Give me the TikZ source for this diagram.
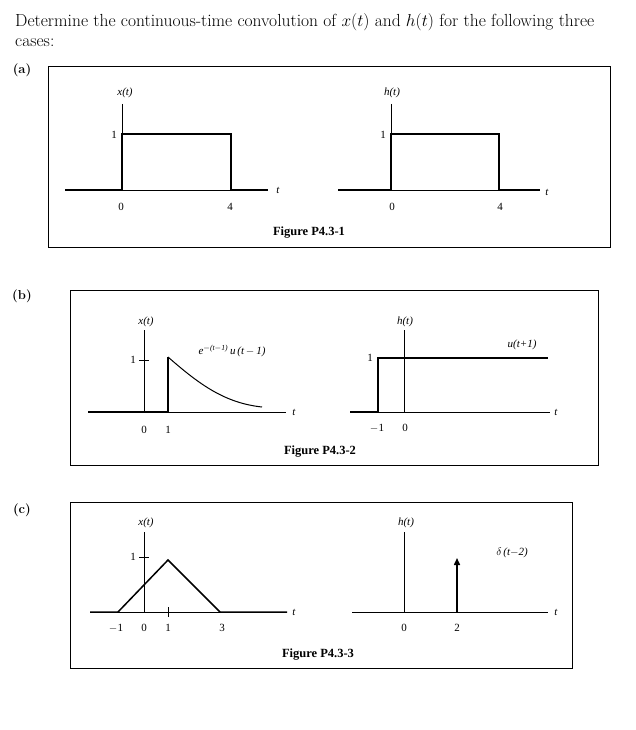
\documentclass[tikz,border=0pt]{standalone}
\usepackage{fontspec}
\newfontfamily\tms{Liberation Serif}
\usetikzlibrary{arrows.meta}
\begin{document}
\begin{tikzpicture}[x=1pt,y=-1pt,
  ax/.style={line width=0.7pt},
  sig/.style={line width=1.5pt},
  lb/.style={font=\tms\fontsize{11}{13}\selectfont\itshape, inner sep=1pt},
  num/.style={font=\tms\fontsize{11}{13}\selectfont, inner sep=1pt},
  fig/.style={font=\tms\bfseries\fontsize{12.5}{14}\selectfont},
  part/.style={font=\bfseries\fontsize{13}{15}\selectfont},
  frame/.style={line width=0.7pt}]
\useasboundingbox (0,0) rectangle (636,730);
\node[anchor=west,font=\fontsize{17.5}{20}\selectfont, inner sep=0] (hd1) at (15,22) {Determine the continuous-time convolution of $x(t)$ and $h(t)$ for the following three};
\node[anchor=west,font=\fontsize{17.5}{20}\selectfont, inner sep=0] (hd2) at (15,43) {cases:};
% (a)
\node[part] (pa) at (22,70) {(a)};
\draw[frame] (48,66) rectangle (610,247);
\draw[ax] (122,104) -- (122,190);
\draw[ax] (65,190) -- (268,190);
\draw[sig] (65,190) -- (122,190) -- (122,134) -- (231,134) -- (231,190) -- (268,190);
\node[lb] (xa) at (125,93) {x(t)};
\node[num] (a1) at (114,135) {1};
\node[lb] (ta) at (278,190) {t};
\node[num] (a0) at (121,207) {0};
\node[num] (a4) at (230,207) {4};
\draw[ax] (391,104) -- (391,190);
\draw[ax] (338,190) -- (540,190);
\draw[sig] (338,190) -- (391,190) -- (391,134) -- (499,134) -- (499,190) -- (540,190);
\node[lb] (ha) at (392,93) {h(t)};
\node[num] (ha1) at (383,135) {1};
\node[lb] (tha) at (547,192) {t};
\node[num] (ha0) at (392,207) {0};
\node[num] (ha4) at (500,207) {4};
\node[fig] (f1) at (309,233) {Figure P4.3-1};
% (b)
\node[part] (pb) at (22,296) {(b)};
\draw[frame] (70,290) rectangle (598,465);
\draw[ax] (144,330) -- (144,412);
\draw[ax] (88,412) -- (286,412);
\draw[ax] (139,360) -- (149,360);
\draw[sig] (88,412) -- (168,412) -- (168,357);
\draw[line width=1pt] (168,357) .. controls (200,385) and (225,403) .. (262,407);
\node[lb] (xb) at (146,322) {x(t)};
\node[num] (b1) at (133,360) {1};
\node[lb] (tb) at (294,412) {t};
\node[lb] (eb) at (232,351) {e\textsuperscript{$-$(t$-$1)}\,u\,(t$\,-\,$1)};
\node[num] (b0) at (144,430) {0};
\node[num] (bb1) at (168,430) {1};
\draw[ax] (404,330) -- (404,412);
\draw[ax] (350,412) -- (550,412);
\draw[sig] (350,412) -- (378,412) -- (378,358) -- (548,358);
\node[lb] (hb) at (405,322) {h(t)};
\node[num] (hb1) at (370,358) {1};
\node[lb] (ub) at (522,345) {u(t+1)};
\node[lb] (thb) at (556,412) {t};
\node[num] (hbm) at (377,428) {$-$1};
\node[num] (hb0) at (405,428) {0};
\node[fig] (f2) at (320,452) {Figure P4.3-2};
% (c)
\node[part] (pc) at (22,510) {(c)};
\draw[frame] (70,502) rectangle (572,668);
\draw[ax] (144,532) -- (144,612);
\draw[ax] (90,612) -- (287,612);
\draw[ax] (139,557) -- (149,557);
\draw[ax] (168,607) -- (168,617);
\draw[sig] (90,612) -- (118,612) -- (168,560) -- (220,612) -- (287,612);
\node[lb] (xc) at (146,523) {x(t)};
\node[num] (c1) at (133,557) {1};
\node[lb] (tc) at (294,612) {t};
\node[num] (cm) at (116,628) {$-$1};
\node[num] (c0) at (144,628) {0};
\node[num] (cc1) at (168,628) {1};
\node[num] (c3) at (222,628) {3};
\draw[ax] (404,532) -- (404,612);
\draw[ax] (352,612) -- (548,612);
\coordinate (ib) at (457,612);
\coordinate (it) at (457,558);
\draw[sig,-{Triangle[length=7pt,width=6pt]}] (ib) -- (it);
\node[lb] (hc) at (406,523) {h(t)};
\node[lb] (dc) at (512,553) {$\delta$\,(t$-$2)};
\node[lb] (thc) at (556,612) {t};
\node[num] (hc0) at (404,628) {0};
\node[num] (hc2) at (457,628) {2};
\node[fig] (f3) at (318,655) {Figure P4.3-3};
\end{tikzpicture}
\end{document}
